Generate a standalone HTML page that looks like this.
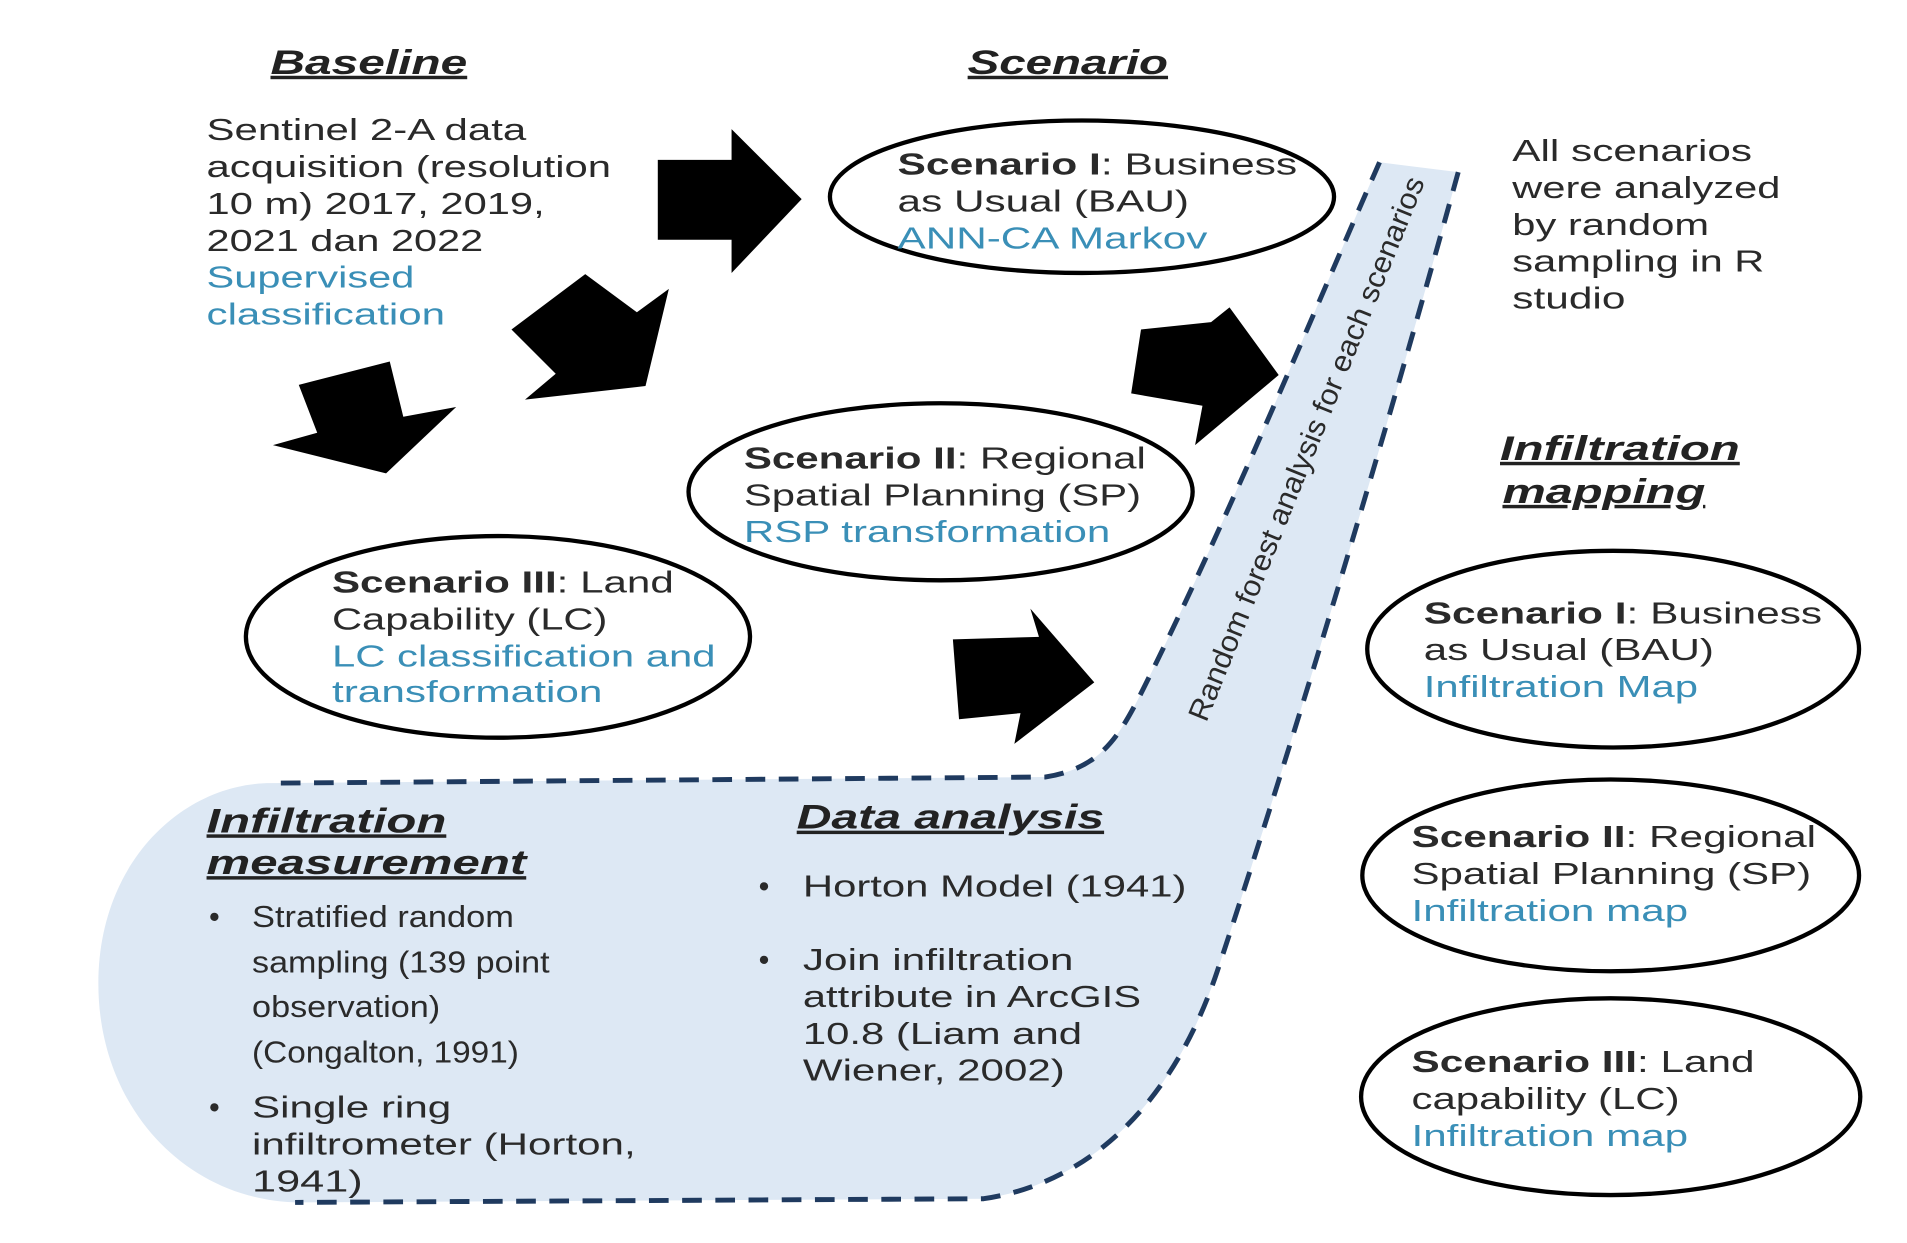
<!DOCTYPE html>
<html><head><meta charset="utf-8"><style>
html,body{margin:0;padding:0;background:#fff}
svg{display:block}
text{font-family:"Liberation Sans",Arial,sans-serif;font-size:25px;fill:#2a2a2a}
.b{font-weight:bold}
.bl{fill:#3a8fb7}
.h{font-weight:bold;font-style:italic;font-size:28px;text-decoration:underline;fill:#222}
</style></head><body>
<svg width="1907" height="1243" viewBox="0 0 1551 1011" preserveAspectRatio="none" xmlns="http://www.w3.org/2000/svg">
<!-- shaded region -->
<path d="M1122,132 L1186,140 C1120,380 1040,640 990,790 C960,880 900,960 800,975 L240,978 C150,975 80,900 80,800 C80,700 150,637 220,637 L850,632 C895,625 910,600 930,560 C1000,420 1070,250 1122,132 Z" fill="#dde8f4"/>
<path d="M1122,132 C1070,250 1000,420 930,560 C910,600 895,625 850,632 L220,637" fill="none" stroke="#1f3a5f" stroke-width="4" stroke-dasharray="16,11"/>
<path d="M1186,140 C1120,380 1040,640 990,790 C960,880 900,960 800,975 L240,978" fill="none" stroke="#1f3a5f" stroke-width="4" stroke-dasharray="16,11"/>
<text transform="translate(1070,368) rotate(-68)" text-anchor="middle" textLength="475" lengthAdjust="spacingAndGlyphs" style="font-size:24px">Random forest analysis for each scenarios</text>

<!-- arrows -->
<g fill="#000">
<polygon points="535,130 595,130 595,105 652,162 595,222 595,195 535,195"/>
<polygon points="416,268 476,223 518,254 544,235 525,314 427,325 452,304"/>
<polygon points="243,313 317,294 328,339 371,331 314,385 222,362 258,352"/>
<polygon points="920,320 928,268 985,262 1000,250 1040,305 972,362 978,330"/>
<polygon points="775,520 845,518 838,495 890,555 825,605 830,580 780,585"/>
</g>

<!-- ellipses -->
<g fill="none" stroke="#000" stroke-width="3.5">
<ellipse cx="880" cy="160" rx="205" ry="62"/>
<ellipse cx="765" cy="400" rx="205" ry="72"/>
<ellipse cx="405" cy="518" rx="205" ry="82"/>
<ellipse cx="1312" cy="528" rx="200" ry="80"/>
<ellipse cx="1310" cy="712" rx="202" ry="78"/>
<ellipse cx="1310" cy="892" rx="203" ry="80"/>
</g>

<!-- headings -->
<text class="h" x="220" y="60" textLength="160" lengthAdjust="spacingAndGlyphs">Baseline</text>
<text class="h" x="787" y="60" textLength="163" lengthAdjust="spacingAndGlyphs">Scenario</text>
<text class="h" x="1220" y="374" textLength="195" lengthAdjust="spacingAndGlyphs">Infiltration</text>
<text class="h" x="1222" y="409" textLength="165" lengthAdjust="spacingAndGlyphs">mapping</text>
<text class="h" x="168" y="677" textLength="195" lengthAdjust="spacingAndGlyphs">Infiltration</text>
<text class="h" x="168" y="711" textLength="260" lengthAdjust="spacingAndGlyphs">measurement</text>
<text class="h" x="648" y="674" textLength="250" lengthAdjust="spacingAndGlyphs">Data analysis</text>

<!-- baseline text -->
<text x="168" y="114" textLength="260" lengthAdjust="spacingAndGlyphs">Sentinel 2-A data</text>
<text x="168" y="144" textLength="329" lengthAdjust="spacingAndGlyphs">acquisition (resolution</text>
<text x="168" y="174" textLength="275" lengthAdjust="spacingAndGlyphs">10 m) 2017, 2019,</text>
<text x="168" y="204" textLength="225" lengthAdjust="spacingAndGlyphs">2021 dan 2022</text>
<text class="bl" x="168" y="234" textLength="169" lengthAdjust="spacingAndGlyphs">Supervised</text>
<text class="bl" x="168" y="264" textLength="194" lengthAdjust="spacingAndGlyphs">classification</text>

<!-- scenario ellipses -->
<text x="730" y="142" textLength="325" lengthAdjust="spacingAndGlyphs"><tspan class="b">Scenario I</tspan>: Business</text>
<text x="730" y="172" textLength="237" lengthAdjust="spacingAndGlyphs">as Usual (BAU)</text>
<text class="bl" x="730" y="202" textLength="252" lengthAdjust="spacingAndGlyphs">ANN-CA Markov</text>

<text x="605" y="381" textLength="327" lengthAdjust="spacingAndGlyphs"><tspan class="b">Scenario II</tspan>: Regional</text>
<text x="605" y="411" textLength="323" lengthAdjust="spacingAndGlyphs">Spatial Planning (SP)</text>
<text class="bl" x="605" y="441" textLength="298" lengthAdjust="spacingAndGlyphs">RSP transformation</text>

<text x="270" y="482" textLength="278" lengthAdjust="spacingAndGlyphs"><tspan class="b">Scenario III</tspan>: Land</text>
<text x="270" y="512" textLength="224" lengthAdjust="spacingAndGlyphs">Capability (LC)</text>
<text class="bl" x="270" y="542" textLength="312" lengthAdjust="spacingAndGlyphs">LC classification and</text>
<text class="bl" x="270" y="571" textLength="220" lengthAdjust="spacingAndGlyphs">transformation</text>

<!-- all scenarios -->
<text x="1230" y="131" textLength="195" lengthAdjust="spacingAndGlyphs">All scenarios</text>
<text x="1230" y="161" textLength="218" lengthAdjust="spacingAndGlyphs">were analyzed</text>
<text x="1230" y="191" textLength="160" lengthAdjust="spacingAndGlyphs">by random</text>
<text x="1230" y="221" textLength="205" lengthAdjust="spacingAndGlyphs">sampling in R</text>
<text x="1230" y="251" textLength="92" lengthAdjust="spacingAndGlyphs">studio</text>

<!-- infiltration mapping ellipses -->
<text x="1158" y="507" textLength="324" lengthAdjust="spacingAndGlyphs"><tspan class="b">Scenario I</tspan>: Business</text>
<text x="1158" y="537" textLength="236" lengthAdjust="spacingAndGlyphs">as Usual (BAU)</text>
<text class="bl" x="1158" y="567" textLength="223" lengthAdjust="spacingAndGlyphs">Infiltration Map</text>

<text x="1148" y="689" textLength="329" lengthAdjust="spacingAndGlyphs"><tspan class="b">Scenario II</tspan>: Regional</text>
<text x="1148" y="719" textLength="325" lengthAdjust="spacingAndGlyphs">Spatial Planning (SP)</text>
<text class="bl" x="1148" y="749" textLength="225" lengthAdjust="spacingAndGlyphs">Infiltration map</text>

<text x="1148" y="872" textLength="279" lengthAdjust="spacingAndGlyphs"><tspan class="b">Scenario III</tspan>: Land</text>
<text x="1148" y="902" textLength="218" lengthAdjust="spacingAndGlyphs">capability (LC)</text>
<text class="bl" x="1148" y="932" textLength="225" lengthAdjust="spacingAndGlyphs">Infiltration map</text>

<!-- infiltration measurement -->
<text x="170" y="754">•</text>
<text x="205" y="754" textLength="213" lengthAdjust="spacingAndGlyphs">Stratified random</text>
<text x="205" y="791" textLength="242" lengthAdjust="spacingAndGlyphs">sampling (139 point</text>
<text x="205" y="827" textLength="153" lengthAdjust="spacingAndGlyphs">observation)</text>
<text x="205" y="864" textLength="217" lengthAdjust="spacingAndGlyphs">(Congalton, 1991)</text>
<text x="170" y="909">•</text>
<text x="205" y="909" textLength="162" lengthAdjust="spacingAndGlyphs">Single ring</text>
<text x="205" y="939" textLength="312" lengthAdjust="spacingAndGlyphs">infiltrometer (Horton,</text>
<text x="205" y="969" textLength="90" lengthAdjust="spacingAndGlyphs">1941)</text>

<!-- data analysis -->
<text x="617" y="729">•</text>
<text x="653" y="729" textLength="312" lengthAdjust="spacingAndGlyphs">Horton Model (1941)</text>
<text x="617" y="789">•</text>
<text x="653" y="789" textLength="220" lengthAdjust="spacingAndGlyphs">Join infiltration</text>
<text x="653" y="819" textLength="275" lengthAdjust="spacingAndGlyphs">attribute in ArcGIS</text>
<text x="653" y="849" textLength="227" lengthAdjust="spacingAndGlyphs">10.8 (Liam and</text>
<text x="653" y="879" textLength="213" lengthAdjust="spacingAndGlyphs">Wiener, 2002)</text>
</svg>
</body></html>
